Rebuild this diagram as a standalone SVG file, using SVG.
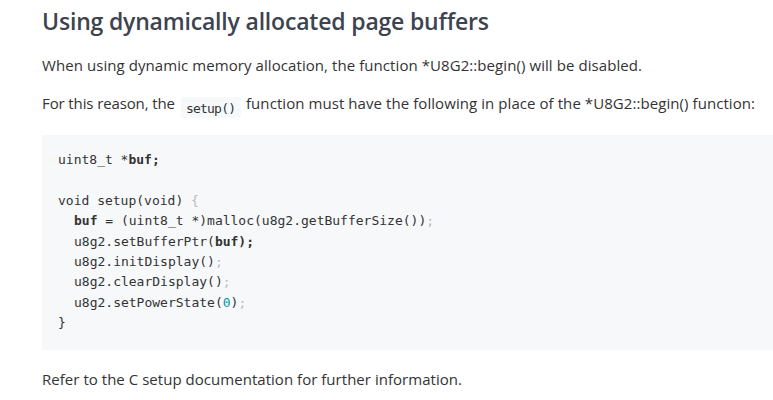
<svg xmlns="http://www.w3.org/2000/svg" width="773" height="400" viewBox="0 0 773 400">
<style>
.b{font-family:"Open Sans","Noto Sans",sans-serif;font-size:15px;fill:#333}
.c{font-family:"DejaVu Sans Mono","Liberation Mono",monospace;font-size:13px;fill:#333}
.g{fill:#bbb}.n{fill:#099}.k{font-weight:bold}
</style>
<rect width="773" height="400" fill="#fff"/>
<text x="42" y="30" font-family="Open Sans, Noto Sans, sans-serif" font-size="23" font-weight="600" fill="#3d4350" textLength="447">Using dynamically allocated page buffers</text>
<text class="b" x="42" y="71" textLength="600">When using dynamic memory allocation, the function *U8G2::begin() will be disabled.</text>
<text class="b" x="42" y="109" textLength="133">For this reason, the</text>
<rect x="181" y="97" width="60" height="21" rx="3" fill="#f6f8fa"/>
<text class="c" x="186" y="113" textLength="50">setup()</text>
<text class="b" x="246" y="109" textLength="509">function must have the following in place of the *U8G2::begin() function:</text>
<rect x="42" y="135" width="731" height="215" fill="#f6f8fa"/>
<g class="c">
<text x="58" y="164">uint8_t *<tspan class="k">buf;</tspan></text>
<text x="58" y="205">void setup(void) <tspan class="g">{</tspan></text>
<text x="74" y="225"><tspan class="k">buf</tspan> = (uint8_t *)malloc(u8g2.getBufferSize())<tspan class="g">;</tspan></text>
<text x="74" y="246">u8g2.setBufferPtr(<tspan class="k">buf);</tspan></text>
<text x="74" y="266">u8g2.initDisplay()<tspan class="g">;</tspan></text>
<text x="74" y="286">u8g2.clearDisplay()<tspan class="g">;</tspan></text>
<text x="74" y="307">u8g2.setPowerState(<tspan class="n">0</tspan>)<tspan class="g">;</tspan></text>
<text x="58" y="327">}</text>
</g>
<text class="b" x="42" y="385" textLength="420">Refer to the C setup documentation for further information.</text>
</svg>
